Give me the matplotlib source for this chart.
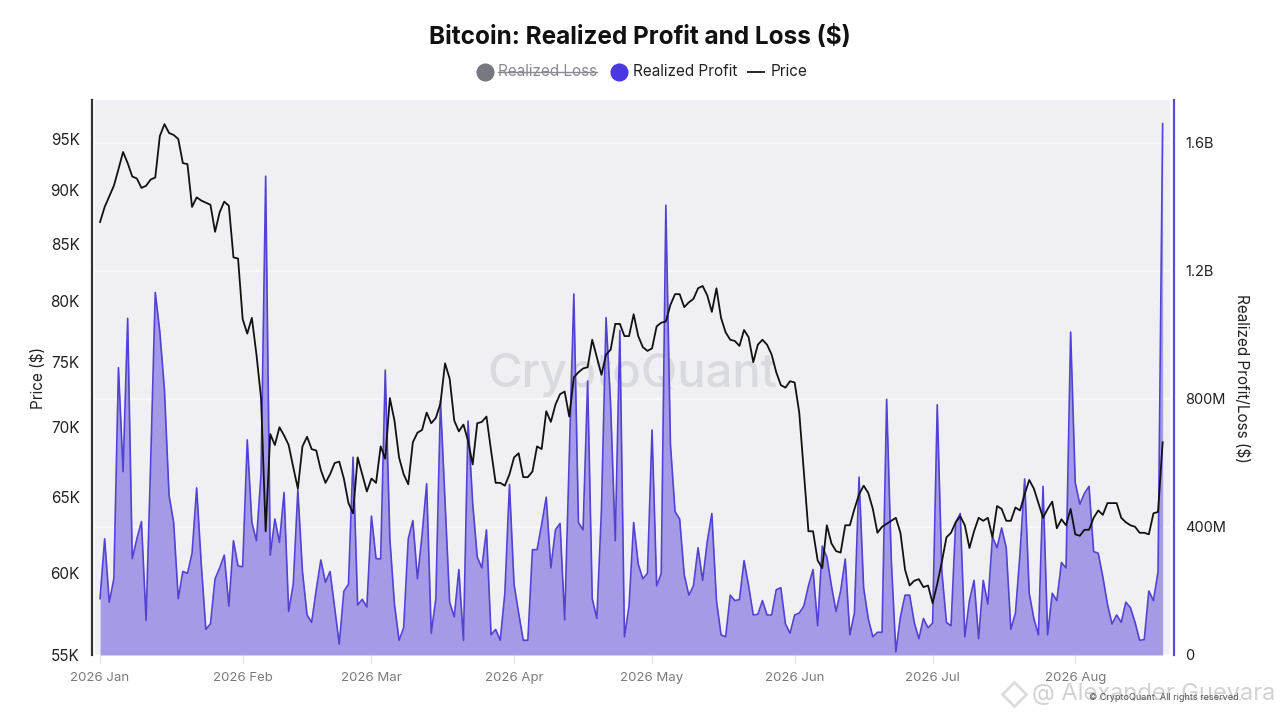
import numpy as np
import pandas as pd
import matplotlib
matplotlib.use('Agg')
import matplotlib.pyplot as plt
import matplotlib.ticker as mticker
import matplotlib.dates as mdates
from matplotlib.lines import Line2D

plt.rcParams['font.family'] = ['Inter', 'DejaVu Sans']

# daily values from 2026-01-01, price in thousands of $
price_k = [
    87.0, 88.4, 89.4, 90.4, 92.0, 93.7, 92.6, 91.3, 91.1, 90.2, 90.4, 91.0, 91.2, 95.3, 96.5, 95.6, 95.4,
    95.0, 92.6, 92.5, 88.4, 89.3, 89.0, 88.8, 88.6, 86.1, 87.9, 88.9, 88.5, 83.8, 83.7, 78.5, 77.3, 78.6,
    75.6, 72.2, 62.7, 69.5, 68.7, 70.0, 69.4, 68.7, 67.1, 65.6, 68.6, 69.3, 68.4, 68.3, 66.9, 66.0, 66.6,
    67.4, 67.5, 66.3, 64.6, 63.9, 67.8, 66.6, 65.4, 66.3, 66.0, 68.6, 67.7, 72.2, 70.5, 67.8, 66.6, 65.9,
    68.9, 69.6, 69.8, 71.1, 70.3, 70.7, 71.8, 74.9, 73.7, 70.5, 69.7, 70.2, 69.0, 67.3, 70.3, 70.4, 70.8,
    68.3, 66.0, 66.0, 65.8, 66.6, 67.8, 68.1, 66.4, 66.4, 66.8, 68.6, 68.4, 71.2, 70.4, 71.7, 72.5, 72.7,
    70.8, 73.8, 74.2, 74.5, 74.6, 76.8, 75.4, 74.0, 75.6, 76.0, 78.1, 78.1, 77.1, 77.1, 78.9, 77.1, 76.2,
    75.9, 76.1, 77.9, 78.2, 78.3, 79.7, 80.6, 80.6, 79.5, 79.9, 80.2, 81.1, 81.3, 80.5, 79.1, 81.1,
    78.6, 77.4, 76.8, 76.7, 76.3, 77.6, 77.0, 75.0, 76.4, 76.8, 76.4, 75.6, 74.2, 73.2, 73.0, 73.5, 73.4,
    71.1, 66.8, 62.7, 62.7, 60.8, 60.3, 63.1, 61.9, 61.4, 61.3, 63.1, 63.1, 64.2, 65.2, 65.8, 65.3, 64.2,
    62.6, 63.0, 63.2, 63.4, 63.6, 62.6, 60.2, 59.2, 59.5, 59.6, 59.1, 59.2, 58.1, 59.3, 60.7, 62.3, 62.6,
    63.3, 63.7, 63.1, 61.6, 62.7, 63.6, 63.4, 63.6, 62.3, 64.4, 64.2, 63.4, 63.4, 64.3, 64.1, 65.2,
    66.2, 65.6, 64.6, 63.6, 64.2, 64.7, 62.9, 63.5, 63.1, 64.2, 62.5, 62.4, 62.8, 62.8, 63.6, 64.1, 63.8,
    64.6, 64.6, 64.6, 63.6, 63.3, 63.1, 63.0, 62.6, 62.6, 62.5, 63.9, 64.0, 68.9,
]

# realized profit, millions of $
profit_m = [
    176, 363, 165, 238, 898, 573, 1052, 301, 363, 417, 108, 601, 1133, 1009, 828, 499, 414,
    176, 261, 255, 318, 522, 284, 80, 97, 238, 272, 312, 153, 357, 278, 276, 672, 414,
    357, 567, 1496, 312, 425, 352, 508, 136, 221, 516, 261, 125, 102, 204, 297, 227, 261,
    148, 34, 199, 221, 618, 156, 174, 150, 434, 301, 300, 890, 363, 159, 46, 85, 363,
    420, 238, 374, 535, 68, 176, 794, 480, 165, 119, 267, 46, 731, 476, 306, 272, 391,
    63, 80, 46, 193, 533, 221, 131, 46, 46, 329, 329, 408, 493, 272, 391, 411, 110,
    620, 1128, 414, 391, 856, 176, 114, 454, 1054, 780, 357, 1014, 57, 153, 414, 284, 238,
    255, 703, 216, 255, 1405, 658, 448, 425, 250, 187, 216, 335, 233, 354, 442, 170,
    63, 57, 187, 170, 173, 295, 216, 125, 127, 170, 125, 125, 204, 210, 97, 68, 125,
    131, 153, 216, 267, 91, 340, 306, 216, 136, 200, 300, 63, 131, 556, 210, 114, 57,
    71, 71, 799, 300, 10, 119, 187, 187, 102, 51, 114, 85, 100, 782, 261, 102, 91,
    414, 442, 57, 170, 233, 51, 233, 159, 369, 335, 397, 335, 80, 131, 318, 550,
    193, 114, 63, 527, 63, 193, 170, 289, 272, 1009, 539, 471, 505, 527, 323, 318, 244,
    159, 97, 125, 102, 165, 148, 102, 46, 48, 200, 170, 260, 1660,
]

dates = pd.date_range('2026-01-01', periods=len(price_k), freq='D')

price_ticks = [55, 60, 65, 70, 75, 80, 85, 90, 95]
profit_ticks = [0, 400, 800, 1200, 1600]
profit_labels = ['0', '400M', '800M', '1.2B', '1.6B']

fill_color = '#a59ae6'
edge_color = '#5242d2'
bg_color = '#f0f0f4'

fig = plt.figure(figsize=(12.8, 7.2), dpi=100)
fig.patch.set_facecolor('white')

# profit axis is the base one (right side), price axis on top (left side)
ax = fig.add_axes([95 / 1280, 65 / 720, 1075 / 1280, 555 / 720])
ax.set_facecolor(bg_color)
ax.fill_between(dates, 0, profit_m, color=fill_color, lw=0, zorder=2)
ax.plot(dates, profit_m, color=edge_color, lw=1.2, zorder=3)
ax.set_ylim(0, 1734)
ax.yaxis.grid(True, color='#fafafc', lw=1.2)
ax.set_axisbelow(True)

ax.text(0.5, 0.505, 'CryptoQuant', transform=ax.transAxes, ha='center', va='center',
        fontsize=34, color='#d9d9e0', fontweight='medium', zorder=1)

ax2 = ax.twinx()
ax2.plot(dates, price_k, color='#111111', lw=1.3, zorder=4)
ax2.set_yscale('log')
ax2.set_ylim(55, 99.0)

# twinx puts the base axis ticks on the left, so set both sides after it
ax.yaxis.tick_right()
ax.set_yticks(profit_ticks)
ax.set_yticklabels(profit_labels)
ax.tick_params(axis='y', length=0, pad=8, labelsize=10.5, labelcolor='#222222',
               left=False, labelleft=False, right=True, labelright=True)

ax2.yaxis.tick_left()
ax2.yaxis.set_major_locator(mticker.FixedLocator(price_ticks))
ax2.yaxis.set_major_formatter(mticker.FuncFormatter(lambda v, p: f'{v:g}K'))
ax2.yaxis.set_minor_locator(mticker.NullLocator())
ax2.tick_params(axis='y', length=0, pad=9, labelsize=11, labelcolor='#222222',
                right=False, labelright=False, left=True, labelleft=True)

xmin = pd.Timestamp('2026-01-01') - pd.Timedelta(days=1.1)
xmax = pd.Timestamp('2026-01-01') + pd.Timedelta(days=232.6)
ax.set_xlim(xmin, xmax)
ax.xaxis.set_major_locator(mdates.MonthLocator())
ax.xaxis.set_major_formatter(mdates.DateFormatter('%Y %b'))
ax.tick_params(axis='x', length=6, color='#e2e2e6', pad=6, labelsize=9.5, labelcolor='#7a7a7a')

for a in (ax, ax2):
    for s in ('top', 'bottom', 'left', 'right'):
        a.spines[s].set_visible(False)
ax2.spines['left'].set_visible(True)
ax2.spines['left'].set_color('#333333')
ax2.spines['left'].set_linewidth(1.6)
ax2.spines['left'].set_position(('outward', 2))
ax.spines['right'].set_visible(True)
ax.spines['right'].set_color('#5a4bd0')
ax.spines['right'].set_linewidth(1.6)
ax.spines['right'].set_position(('outward', 3))

# axis titles
fig.text(38 / 1280, 1 - 378 / 720, 'Price ($)', rotation=90, ha='center', va='center',
         fontsize=11, color='#222222')
fig.text(1242 / 1280, 1 - 378 / 720, 'Realized Profit/Loss ($)', rotation=270, ha='center',
         va='center', fontsize=11, color='#222222')

# title and legend row
fig.text(0.5, 1 - 37 / 720, 'Bitcoin: Realized Profit and Loss ($)', ha='center', va='center',
         fontsize=17.5, fontweight='bold', color='#111111')

ly = 1 - 72 / 720
fig.add_artist(Line2D([485 / 1280], [ly], marker='o', markersize=12, color='#77777f',
                      transform=fig.transFigure))
loss_txt = fig.text(498 / 1280, ly, 'Realized Loss', ha='left', va='center', fontsize=11,
                    color='#8a8a94')
fig.add_artist(Line2D([619 / 1280], [ly], marker='o', markersize=12, color='#4a38e0',
                      transform=fig.transFigure))
fig.text(633 / 1280, ly, 'Realized Profit', ha='left', va='center', fontsize=11, color='#222222')
fig.add_artist(Line2D([748 / 1280, 764 / 1280], [ly, ly], color='#111111', lw=1.3,
                      transform=fig.transFigure))
fig.text(771 / 1280, ly, 'Price', ha='left', va='center', fontsize=11, color='#222222')

# strike through the hidden series label
fig.canvas.draw()
bb = loss_txt.get_window_extent().transformed(fig.transFigure.inverted())
fig.add_artist(Line2D([bb.x0, bb.x1], [ly, ly], color='#8a8a94', lw=1.0,
                      transform=fig.transFigure))

# bottom-right watermark
fig.add_artist(Line2D([1014 / 1280], [1 - 694 / 720], marker='D', markersize=12,
                      markerfacecolor='none', markeredgecolor='#dcdcdc', markeredgewidth=2,
                      transform=fig.transFigure))
fig.text(1032 / 1280, 1 - 694 / 720, '@ Alexander Guevara', ha='left', va='center',
         fontsize=17, color='#d2d2d2')
fig.text(1165 / 1280, 1 - 697 / 720, '\u00a9 CryptoQuant. All rights reserved.', ha='center',
         va='center', fontsize=6.5, color='#555555')

fig.savefig('out.png', dpi=100)
